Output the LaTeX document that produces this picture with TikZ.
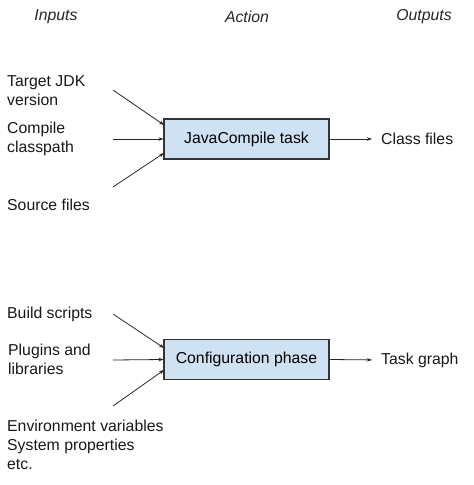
\documentclass[tikz,border=0pt]{standalone}
\usepackage{fontspec}
\setmainfont{Liberation Sans}
\usetikzlibrary{arrows.meta}
\begin{document}
\begin{tikzpicture}[x=1pt,y=-1pt,
  lbl/.style={inner sep=0pt,align=left,font=\fontsize{15.8}{19}\selectfont,text=black!90},
  hdr/.style={inner sep=0pt,font=\fontsize{15.8}{19}\selectfont\itshape,text=black!85},
  proc/.style={draw=black!80,line width=1.1pt,fill={rgb,255:red,207;green,226;blue,243},minimum width=165pt,minimum height=40pt,inner sep=0pt,font=\fontsize{15.8}{19}\selectfont},
  conn/.style={draw=black!85,line width=0.8pt,-{Stealth[length=5pt,width=3.5pt]}}]
\useasboundingbox (0,0) rectangle (474,485);
\fill[white] (0,0) rectangle (474,485);
% headers
\node[hdr] (hin) at (56,17) {Inputs};
\node[hdr] (hact) at (247,17) {Action};
\node[hdr] (hout) at (424,17) {Outputs};
% top section
\node[proc] (jc) at (246.5,139) {JavaCompile task};
\node[lbl,anchor=west] (jdk) at (7,90.5) {Target JDK\\version};
\node[lbl,anchor=west] (cp) at (7,138.5) {Compile\\classpath};
\node[lbl,anchor=west] (src) at (7,205) {Source files};
\node[lbl,anchor=west] (cf) at (381,139) {Class files};
\coordinate (a1) at (113,90);
\coordinate (a2) at (113,139);
\coordinate (a3) at (113,187);
\coordinate (e1) at (164,125);
\coordinate (e3) at (164,153);
\draw[conn] (a1) -- (e1);
\draw[conn] (a2) -- (jc.west);
\draw[conn] (a3) -- (e3);
\draw[conn,shorten >=9pt] (jc.east) -- (cf.west);
% bottom section
\node[proc] (cfg) at (246.5,359.5) {Configuration phase};
\node[lbl,anchor=west] (bs) at (7,314) {Build scripts};
\node[lbl,anchor=west] (pl) at (8,359.5) {Plugins and\\libraries};
\node[lbl,anchor=west] (env) at (7,445) {Environment variables\\System properties\\etc.};
\node[lbl,anchor=west] (tg) at (381,360) {Task graph};
\coordinate (b1) at (113,314);
\coordinate (b2) at (113,360);
\coordinate (b3) at (113,406);
\coordinate (f1) at (164,348);
\coordinate (f3) at (164,370);
\draw[conn] (b1) -- (f1);
\draw[conn] (b2) -- (cfg.west);
\draw[conn] (b3) -- (f3);
\draw[conn,shorten >=9pt] (cfg.east) -- (tg.west);
\end{tikzpicture}
\end{document}
